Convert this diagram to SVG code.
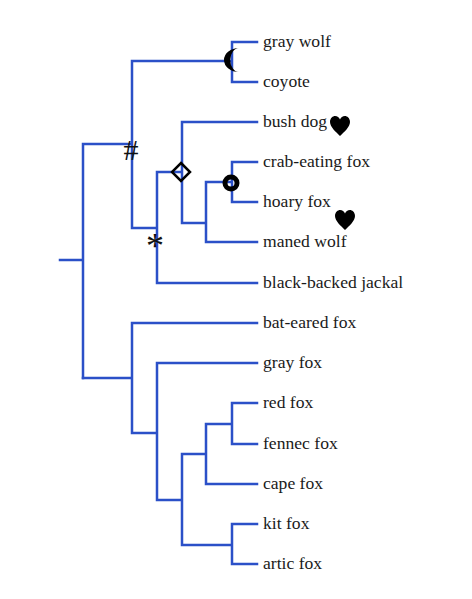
<svg xmlns="http://www.w3.org/2000/svg" width="472" height="599" viewBox="0 0 472 599">
<style>
.e{fill:none;stroke:#2b50c8;stroke-width:2.5;stroke-linecap:square}
.l{font-family:'Liberation Serif',Tinos,'Times New Roman','DejaVu Serif',serif;font-size:17.6px;fill:#1a1a1a}
.s{font-family:'Liberation Serif',Tinos,'Times New Roman','DejaVu Serif',serif;fill:#111;text-anchor:middle}
.m{fill:#000}
</style>
<rect width="472" height="599" fill="#fff"/>
<g id="connectors">
<path class="e" d="M60,260H83M83,144V378M83,144H132M132,61V228M132,61H232M232,42V82M232,42H257M232,82H257M132,228H157M157,172V283M157,283H257M157,172H182M182,122V223M182,122H257M182,223H206M206,182V242M206,242H257M206,182H232M232,162V202M232,162H257M232,202H257"/>
<path class="e" d="M83,378H132M132,323V433M132,323H257M132,433H157M157,363V500M157,363H257M157,500H182M182,454V545M182,454H206M206,424V484M206,484H257M206,424H232M232,403V444M232,403H257M232,444H257M182,545H232M232,524V564M232,524H257M232,564H257"/>
</g>
<g id="markers">
<path class="m" d="M239,48A15,12 0 0 0 239,72A8,11 0 0 1 239,48Z"/>
<path d="M181,163L190,172L181,181L172,172Z" fill="none" stroke="#000" stroke-width="2.5"/>
<circle cx="231" cy="183" r="6" fill="none" stroke="#000" stroke-width="5"/>
<text class="s" x="131" y="160" font-size="30">#</text>
<text class="s" x="155" y="258" font-size="36">*</text>
<path class="m" transform="translate(340,126)" d="M0,10C-4,6 -10,1 -10,-4C-10,-8 -7,-10 -5,-10C-2.5,-10 -1,-8.5 0,-6.5C1,-8.5 2.5,-10 5,-10C7,-10 10,-8 10,-4C10,1 4,6 0,10Z"/>
<path class="m" transform="translate(345,220)" d="M0,10C-4,6 -10,1 -10,-4C-10,-8 -7,-10 -5,-10C-2.5,-10 -1,-8.5 0,-6.5C1,-8.5 2.5,-10 5,-10C7,-10 10,-8 10,-4C10,1 4,6 0,10Z"/>
</g>
<g id="n-graywolf"><text class="l" x="263" y="47">gray wolf</text></g>
<g id="n-coyote"><text class="l" x="263" y="87">coyote</text></g>
<g id="n-bushdog"><text class="l" x="263" y="127">bush dog</text></g>
<g id="n-crab"><text class="l" x="263" y="167">crab-eating fox</text></g>
<g id="n-hoary"><text class="l" x="263" y="207">hoary fox</text></g>
<g id="n-maned"><text class="l" x="263" y="247">maned wolf</text></g>
<g id="n-jackal"><text class="l" x="263" y="288">black-backed jackal</text></g>
<g id="n-bateared"><text class="l" x="263" y="328">bat-eared fox</text></g>
<g id="n-grayfox"><text class="l" x="263" y="368">gray fox</text></g>
<g id="n-redfox"><text class="l" x="263" y="408">red fox</text></g>
<g id="n-fennec"><text class="l" x="263" y="449">fennec fox</text></g>
<g id="n-cape"><text class="l" x="263" y="489">cape fox</text></g>
<g id="n-kit"><text class="l" x="263" y="529">kit fox</text></g>
<g id="n-artic"><text class="l" x="263" y="569">artic fox</text></g>
</svg>
